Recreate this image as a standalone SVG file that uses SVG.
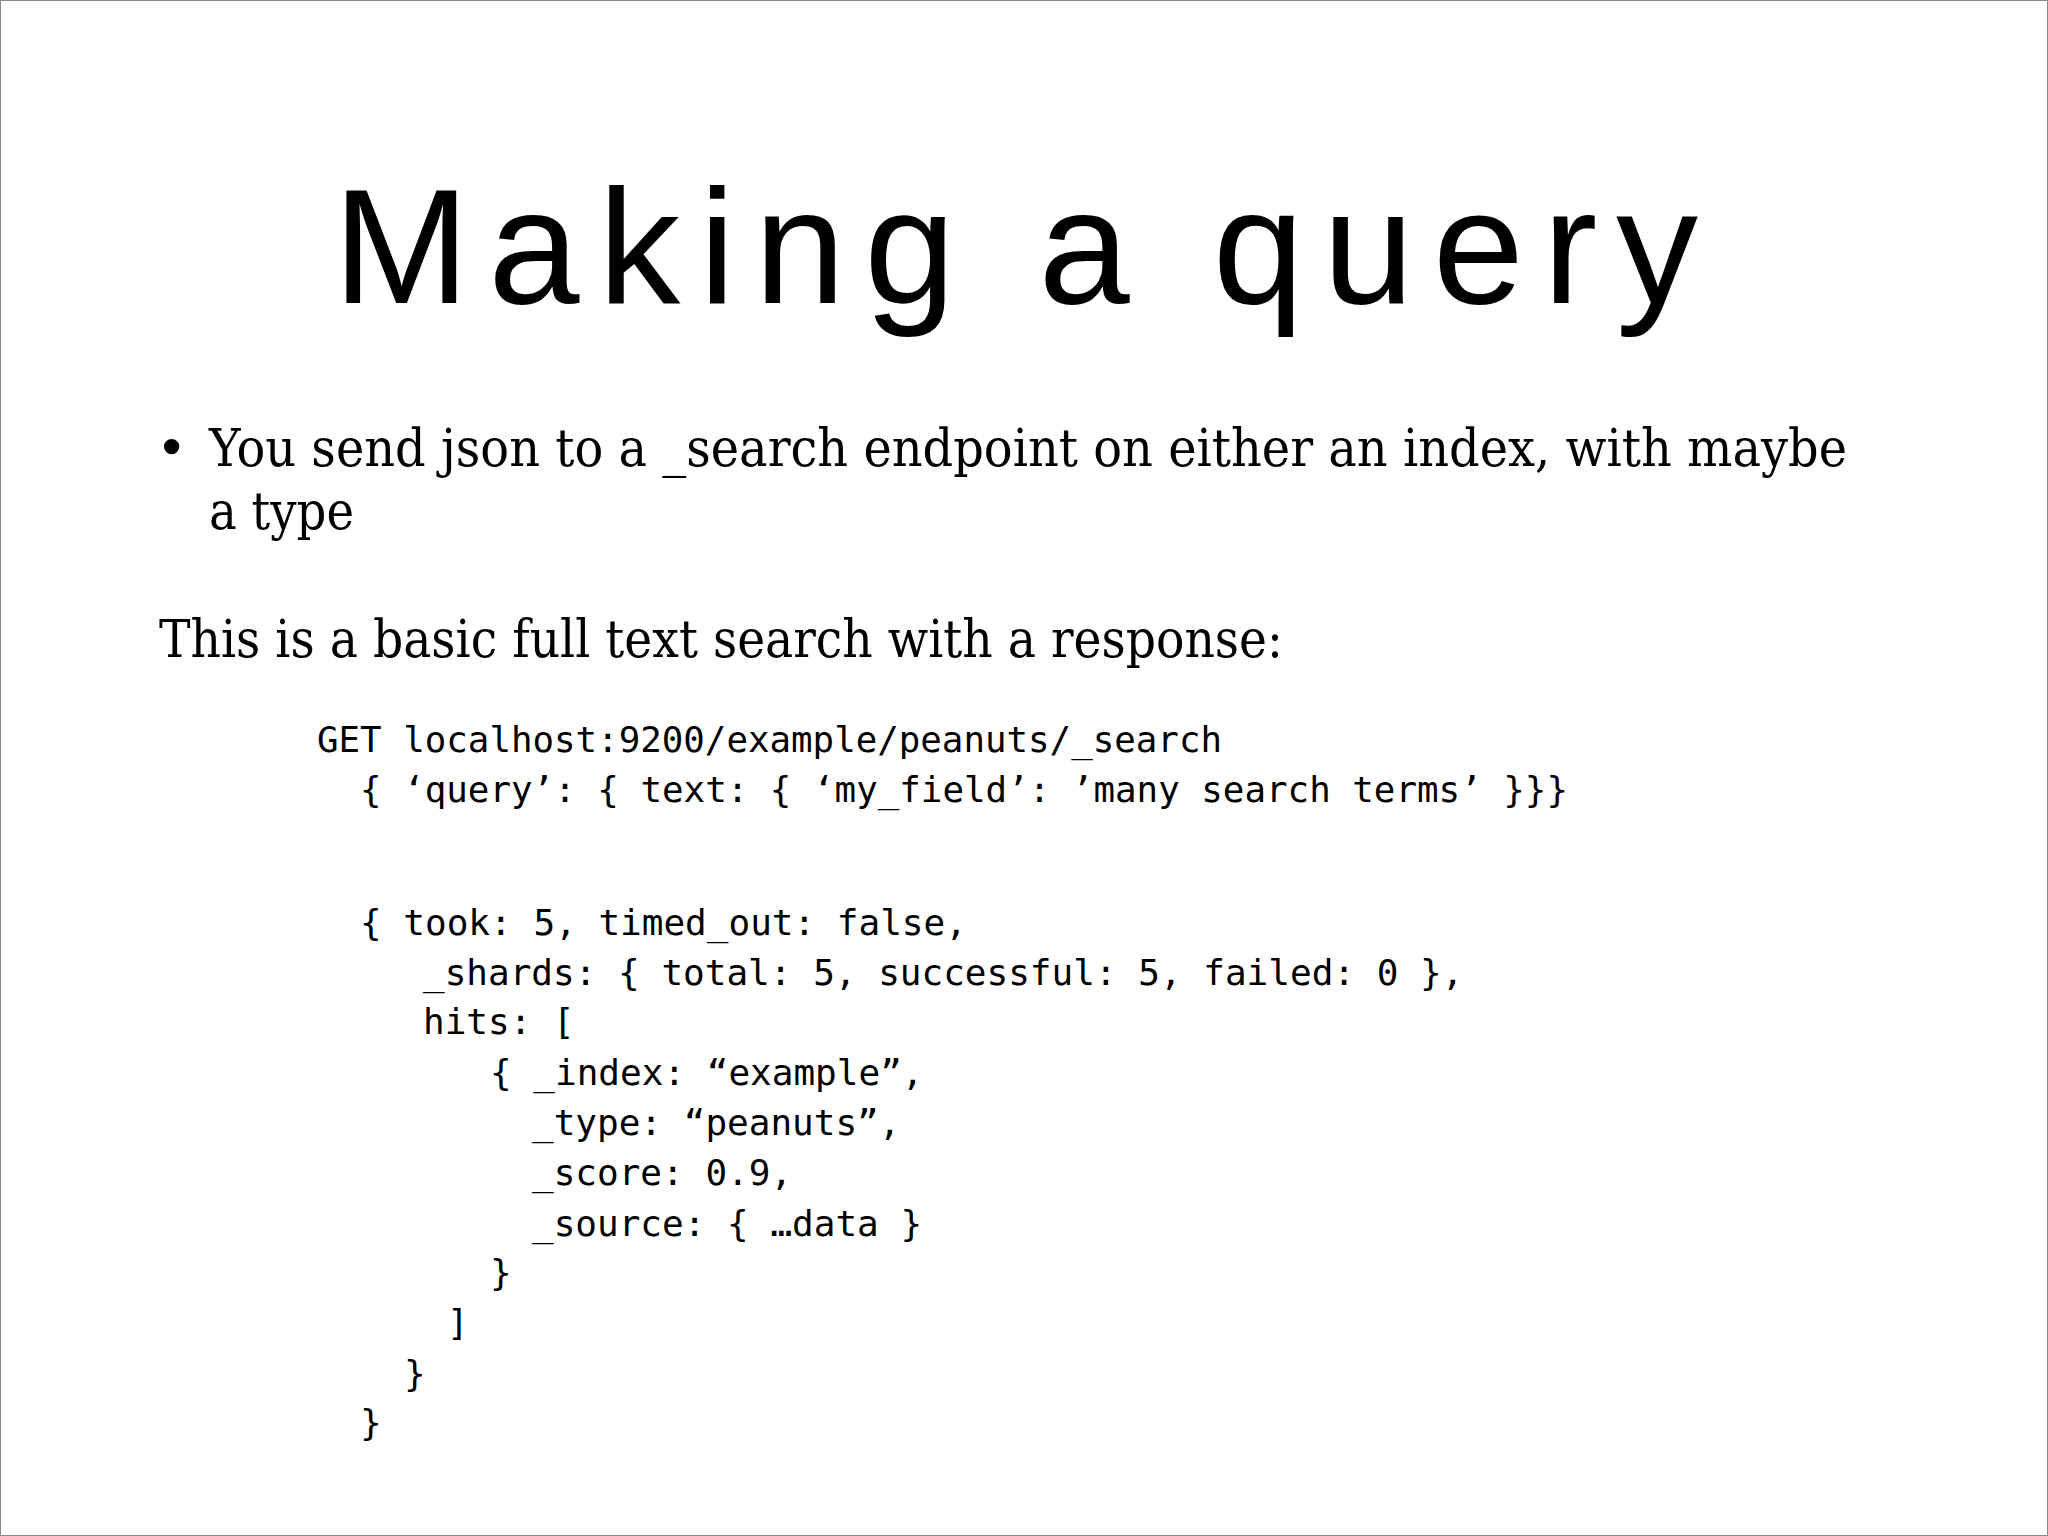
<svg xmlns="http://www.w3.org/2000/svg" width="2048" height="1536" viewBox="0 0 2048 1536">
<style>
.t{font-family:"Liberation Sans",Arial,sans-serif;font-size:164px;fill:#000}
.s{font-family:"DejaVu Serif","Liberation Serif",serif;font-size:53px;fill:#000}
.m{font-family:"DejaVu Sans Mono","Liberation Mono",monospace;font-size:36px;fill:#000;white-space:pre}
</style>
<rect x="0.5" y="0.5" width="2047" height="1535" fill="#fff" stroke="#888" stroke-width="1"/>
<text class="t" x="333" y="303" textLength="1365" lengthAdjust="spacing">Making a query</text>
<text class="s" x="156" y="466">•</text>
<text class="s" x="209" y="466" textLength="1638" lengthAdjust="spacingAndGlyphs">You send json to a _search endpoint on either an index, with maybe</text>
<text class="s" x="209" y="529" textLength="145" lengthAdjust="spacingAndGlyphs">a type</text>
<text class="s" x="159" y="657" textLength="1124" lengthAdjust="spacingAndGlyphs">This is a basic full text search with a response:</text>
<g class="m">
<text x="317" y="752" textLength="905" lengthAdjust="spacingAndGlyphs">GET localhost:9200/example/peanuts/_search</text>
<text x="360" y="802" textLength="1208" lengthAdjust="spacingAndGlyphs">{ ‘query’: { text: { ‘my_field’: ’many search terms’ }}}</text>
<text x="360" y="935">{ took: 5, timed_out: false,</text>
<text x="423" y="985">_shards: { total: 5, successful: 5, failed: 0 },</text>
<text x="423" y="1034">hits: [</text>
<text x="490" y="1085">{ _index: “example”,</text>
<text x="532" y="1135">_type: “peanuts”,</text>
<text x="532" y="1185">_score: 0.9,</text>
<text x="532" y="1236">_source: { …data }</text>
<text x="490" y="1285">}</text>
<text x="447" y="1335">]</text>
<text x="404" y="1386">}</text>
<text x="360" y="1435">}</text>
</g>
</svg>
